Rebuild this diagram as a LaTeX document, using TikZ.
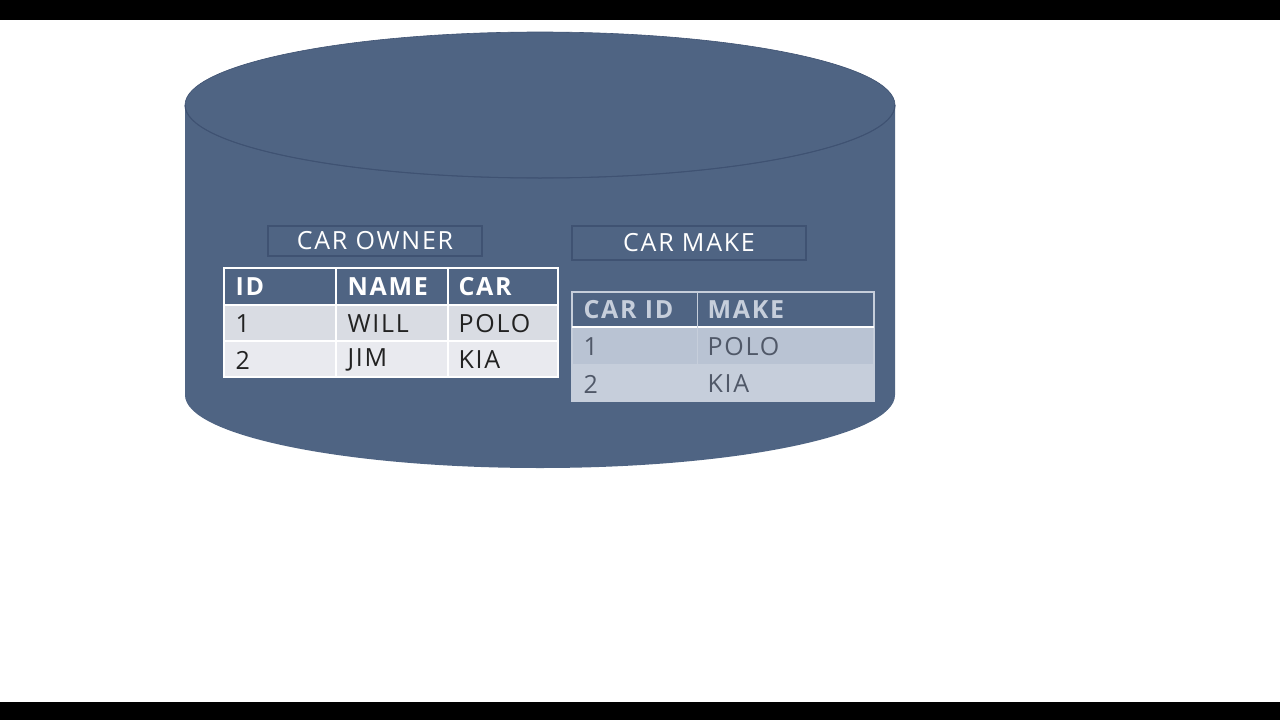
\documentclass[tikz,border=0pt]{standalone}
\usepackage{fontspec}
\setmainfont{Open Sans}[LetterSpace=7]
\definecolor{cyl}{HTML}{4F6483}
\definecolor{cyledge}{HTML}{3F5272}
\definecolor{rowa}{HTML}{D9DCE3}
\definecolor{rowb}{HTML}{E9EAEF}
\definecolor{rowc}{HTML}{B9C3D3}
\definecolor{rowd}{HTML}{C6CEDB}
\definecolor{txt}{HTML}{222222}
\definecolor{txtb}{HTML}{505868}
\tikzset{
  cell/.style={anchor=west,font=\fontsize{25}{27}\selectfont},
  hcell/.style={cell,text=white,font=\fontsize{25}{27}\selectfont\bfseries},
  lbl/.style={draw=cyledge,line width=1.2pt,fill=cyl,text=white,font=\fontsize{25}{27}\selectfont,inner sep=0pt}
}
\begin{document}
\begin{tikzpicture}[x=1pt,y=-1pt]
\useasboundingbox (0,0) rectangle (1280,720);
\fill[black] (0,0) rectangle (1280,20);
\fill[black] (0,702) rectangle (1280,720);
% cylinder
\fill[cyl] (185,105) -- (185,395) arc[start angle=180,end angle=360,x radius=355,y radius=-73] -- (895,105) -- cycle;
\fill[cyl] (540,105) ellipse [x radius=355,y radius=73];
\draw[cyledge,line width=1pt] (185,105) arc[start angle=180,end angle=360,x radius=355,y radius=-73];
\draw[cyledge,line width=0.6pt] (540,105) ellipse [x radius=355,y radius=73];
% labels
\node[lbl,minimum width=214,minimum height=30] (lo) at (375,241) {CAR OWNER};
\node[lbl,minimum width=234,minimum height=34] (lm) at (689,243) {CAR MAKE};
% table 1
\fill[cyl] (224,268) rectangle (558,305);
\fill[rowa] (224,305) rectangle (558,341);
\fill[rowb] (224,341) rectangle (558,377);
\draw[white,line width=1.5pt] (224,268) rectangle (558,377);
\draw[white,line width=1.5pt] (224,305) -- (558,305) (224,341) -- (558,341);
\draw[white,line width=1.5pt] (336,268) -- (336,377) (448,268) -- (448,377);
\node[hcell] (h1) at (232,287) {ID};
\node[hcell] (h2) at (344,287) {NAME};
\node[hcell] (h3) at (455,287) {CAR};
\node[cell,text=txt] (a1) at (232,324) {1};
\node[cell,text=txt] (a2) at (344,324) {WILL};
\node[cell,text=txt] (a3) at (455,324) {POLO};
\node[cell,text=txt] (b1) at (232,360) {2};
\node[cell,text=txt] (b2) at (344,360) {JIM};
\node[cell,text=txt] (b3) at (455,360) {KIA};
% table 2
\fill[cyl] (572,292) rectangle (874,327);
\fill[rowc] (572,327) rectangle (874,364);
\fill[rowd] (572,364) rectangle (874,401);
\draw[rowd,line width=1.5pt] (572,292) rectangle (874,401);
\draw[white,line width=1.5pt] (572,327) -- (874,327);
\draw[rowd,line width=1pt] (572,364) -- (874,364) (697,292) -- (697,401);
\node[hcell,text=rowd] (g1) at (580,310) {CAR ID};
\node[hcell,text=rowd] (g2) at (704,310) {MAKE};
\node[cell,text=txtb] (c1) at (580,347) {1};
\node[cell,text=txtb] (c2) at (704,347) {POLO};
\node[cell,text=txtb] (d1) at (580,384) {2};
\node[cell,text=txtb] (d2) at (704,384) {KIA};
\end{tikzpicture}
\end{document}
